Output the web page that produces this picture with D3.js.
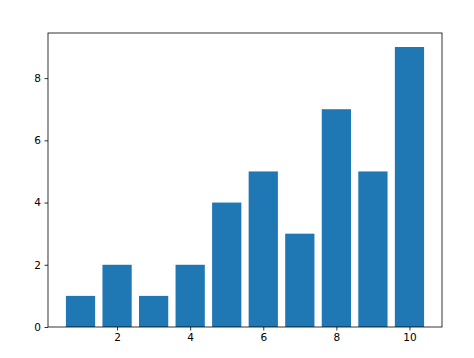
<!DOCTYPE html>
<html>
<head>
<meta charset="utf-8">
<style>
  body { margin: 0; background: #fff; }
  text { font-family: "DejaVu Sans", sans-serif; fill: #000; }
</style>
</head>
<body>
<svg id="chart" width="474" height="358"></svg>
<script src="https://d3js.org/d3.v7.min.js"></script>
<script>
var xs = [1, 2, 3, 4, 5, 6, 7, 8, 9, 10];
var heights = [1, 2, 1, 2, 4, 5, 3, 7, 5, 9];
var xTicks = [2, 4, 6, 8, 10];
var yTicks = [0, 2, 4, 6, 8];

// note: "top" is taken by window.top, so use plotTop etc.
var svg = d3.select("#chart"),
    plotLeft = 48, plotRight = 442, plotTop = 33, plotBottom = 327,
    barW = 0.8;

var lo = 1 - barW / 2, hi = 10 + barW / 2, pad = (hi - lo) * 0.05;
var x = d3.scaleLinear().domain([lo - pad, hi + pad]).range([plotLeft, plotRight]);
var y = d3.scaleLinear().domain([0, 9 * 1.05]).range([plotBottom, plotTop]);

svg.append("g")
  .selectAll("rect")
  .data(xs)
  .enter().append("rect")
  .attr("x", function(d) { return x(d - barW / 2); })
  .attr("width", function() { return x(barW) - x(0); })
  .attr("y", function(d, i) { return y(heights[i]); })
  .attr("height", function(d, i) { return y(0) - y(heights[i]); })
  .attr("fill", "#1f77b4");

var xAxis = svg.append("g")
  .attr("transform", "translate(0," + plotBottom + ")")
  .call(d3.axisBottom(x).tickValues(xTicks).tickSize(3.5).tickPadding(3.5).tickFormat(d3.format("d")));
var yAxis = svg.append("g")
  .attr("transform", "translate(" + plotLeft + ",0)")
  .call(d3.axisLeft(y).tickValues(yTicks).tickSize(3.5).tickPadding(3.5).tickFormat(d3.format("d")));

[xAxis, yAxis].forEach(function(a) {
  a.attr("font-family", "DejaVu Sans").attr("font-size", 10.5);
  a.select(".domain").remove();
  a.selectAll("line").attr("stroke", "#000").attr("stroke-width", 0.8);
  a.selectAll("text").attr("fill", "#000");
});

svg.append("rect")
  .attr("x", plotLeft).attr("y", plotTop)
  .attr("width", plotRight - plotLeft).attr("height", plotBottom - plotTop)
  .attr("fill", "none").attr("stroke", "#000").attr("stroke-width", 0.8);
</script>
</body>
</html>
